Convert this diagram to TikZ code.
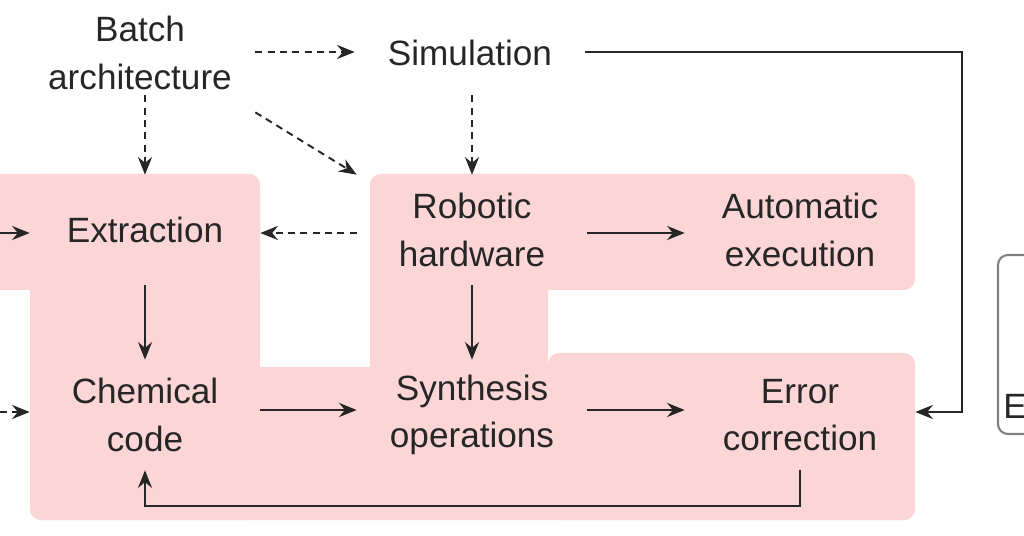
\documentclass[tikz,border=0pt]{standalone}
\usepackage{fontspec}
\setmainfont{Liberation Sans}
\usetikzlibrary{arrows.meta}
\definecolor{panel}{HTML}{FCD6D6}
\begin{document}
\begin{tikzpicture}[
    x=0.02cm, y=-0.02cm,
    stage/.style={align=center, minimum width=4.6cm, minimum height=2.2cm, inner sep=0pt,
        font=\fontsize{20}{27}\selectfont, text=black!85},
    headstage/.style={stage, minimum height=1.68cm},
    arrow/.style={-{Stealth[length=10pt,width=8pt]}, line width=1.1pt, black!85},
    dashedarrow/.style={arrow, dash pattern=on 4pt off 3pt},
    blob/.style={fill=panel, rounded corners=0.22cm}
]
    \useasboundingbox (0,0) rectangle (1024,536);

    % Background panel
    \fill[blob] (-20,174) rectangle (260,290);
    \fill[blob] (30,174) rectangle (260,520);
    \fill[blob] (30,367) rectangle (915,520);
    \fill[blob] (370,174) rectangle (548,380);
    \fill[blob] (370,174) rectangle (915,290);
    \fill[blob] (548,353) rectangle (915,520);

    % Side box
    \draw[gray, line width=1.2pt, rounded corners=0.2cm] (998,255) rectangle (1060,434);
    \node[anchor=west, font=\fontsize{20}{27}\selectfont, text=black!85, inner sep=0pt] (side) at (1003,406) {E};

    % Stages
    \node[headstage] (batch) at (140,53) {Batch\\architecture};
    \node[headstage] (sim) at (470,53) {Simulation};
    \node[stage] (extr) at (145,230) {Extraction};
    \node[stage] (robot) at (472,230) {Robotic\\hardware};
    \node[stage] (auto) at (800,230) {Automatic\\execution};
    \node[stage] (chem) at (145,415) {Chemical\\code};
    \node[stage] (synth) at (472,415) {Synthesis\\operations};
    \node[stage] (err) at (800,415) {Error\\correction};

    % Free ends
    \coordinate (inA) at (0,233);
    \coordinate (inB) at (0,412);

    % Arrows
    \draw[dashedarrow] (batch.east |- 0,52) -- (sim.west |- 0,52);
    \draw[dashedarrow] (extr.north |- batch.south) -- (extr);
    \draw[dashedarrow] (batch.south east) ++(0,17) -- (robot.north west);
    \draw[dashedarrow] (robot.north |- sim.south) -- (robot);
    \draw[arrow] (sim.east |- 0,52) -| (962,412) -- (err.east |- 0,412);
    \draw[dashedarrow] (robot.west |- 0,233) -- (extr.east |- 0,233);
    \draw[arrow] (robot.east |- 0,233) -- (auto.west |- 0,233);
    \draw[arrow] (robot) -- (synth);
    \draw[arrow] (extr) -- (chem);
    \draw[arrow] (chem.east |- 0,410) -- (synth.west |- 0,410);
    \draw[arrow] (synth.east |- 0,410) -- (err.west |- 0,410);
    \draw[arrow] (err.south) -- ++(0,36) -| (chem.south);
    \draw[arrow] (inA) -- (extr.west |- inA);
    \draw[dashedarrow] (inB) -- (chem.west |- inB);
\end{tikzpicture}
\end{document}
